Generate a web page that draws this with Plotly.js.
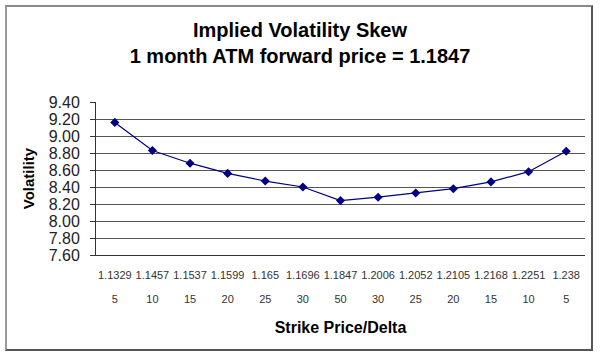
<!DOCTYPE html>
<html>
<head>
<meta charset="utf-8">
<script src="https://cdn.plot.ly/plotly-3.0.1.min.js"></script>
<style>
  html, body { margin: 0; padding: 0; background: #fff; }
  #chart { width: 600px; height: 354px; position: relative; }
  #frame { position: absolute; left: 5px; top: 5px; width: 584px; height: 342px;
           border-left: 2px solid #9a9a9a; border-top: 2px solid #8a8a8a;
           border-right: 2px solid #555; border-bottom: 2px solid #555; pointer-events: none; }
</style>
</head>
<body>
<div id="chart"></div>
<div id="frame"></div>
<script>
const strikes = ["1.1329","1.1457","1.1537","1.1599","1.165","1.1696","1.1847","1.2006","1.2052","1.2105","1.2168","1.2251","1.238"];
const deltas = ["5","10","15","20","25","30","50","30","25","20","15","10","5"];
const volatility = [9.16, 8.83, 8.68, 8.56, 8.47, 8.40, 8.24, 8.28, 8.33, 8.38, 8.46, 8.58, 8.82];
const yTicks = [7.6, 7.8, 8.0, 8.2, 8.4, 8.6, 8.8, 9.0, 9.2, 9.4];

const idx = strikes.map((s, i) => i);
const font = "Liberation Sans, Arial, sans-serif";

const traces = [
  {
    x: idx, y: volatility, type: "scatter", mode: "lines+markers",
    line: { color: "#000080", width: 1.2 },
    marker: { symbol: "diamond", size: 7, color: "#000080" },
    hoverinfo: "skip", showlegend: false
  },
  {
    x: idx, y: volatility, xaxis: "x2", type: "scatter", mode: "markers",
    marker: { opacity: 0 }, hoverinfo: "skip", showlegend: false
  }
];

const xrange = [-0.5, strikes.length - 0.5];

const layout = {
  width: 600, height: 354,
  margin: { l: 96, r: 15, t: 102, b: 99 },
  paper_bgcolor: "#fff", plot_bgcolor: "#fff",
  font: { family: font, color: "#000" },
  title: {
    text: "<b>Implied Volatility Skew<br>1 month ATM forward price = 1.1847</b>",
    font: { size: 20, family: font, color: "#000" },
    x: 0.5, xanchor: "center", xref: "container",
    y: 1 - 37 / 354, yanchor: "top", yref: "container"
  },
  xaxis: {
    range: xrange, tickvals: idx, ticktext: strikes,
    showgrid: false, zeroline: false, showline: true, linecolor: "#333", linewidth: 1,
    ticks: "", tickfont: { size: 11, color: "#333" }, ticklabelstandoff: 10,
    title: { text: "<b>Strike Price/Delta</b>", font: { size: 16, color: "#000" }, standoff: 41 },
    fixedrange: true
  },
  xaxis2: {
    range: xrange, tickvals: idx, ticktext: deltas, overlaying: "x", side: "bottom",
    anchor: "y", showgrid: false, zeroline: false, showline: false,
    ticks: "", tickfont: { size: 11, color: "#333" }, ticklabelstandoff: 36,
    fixedrange: true
  },
  yaxis: {
    range: [7.6, 9.4], tickvals: yTicks, ticktext: yTicks.map(v => v.toFixed(2)),
    showgrid: true, gridcolor: "#555", gridwidth: 1, zeroline: false,
    showline: true, linecolor: "#333", linewidth: 1,
    ticks: "outside", ticklen: 5, tickcolor: "#333",
    tickfont: { size: 16, color: "#222" }, ticklabelstandoff: 7,
    title: { text: "<b>Volatility</b>", font: { size: 15, color: "#000" }, standoff: 10 },
    fixedrange: true
  },
  showlegend: false
};

Plotly.newPlot("chart", traces, layout, { displayModeBar: false, staticPlot: true });
</script>
</body>
</html>
